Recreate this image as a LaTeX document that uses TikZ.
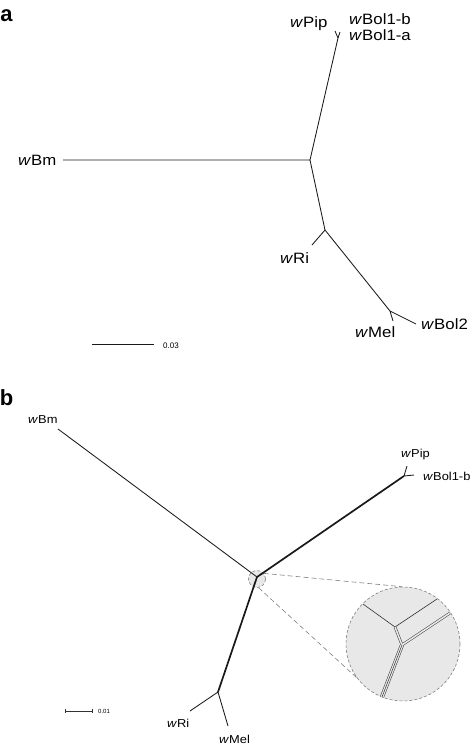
\documentclass[tikz,border=0pt]{standalone}
\usepackage{fontspec}
\setmainfont{Liberation Sans}
\newcommand\wsp[1]{\scalebox{1.12}[1]{\textit{w}#1}}

\begin{document}
\begin{tikzpicture}[x=1pt,y=-1pt,line join=round,
  br/.style={draw=black!90,line width=0.85pt},
  thk/.style={draw=black!90,line width=1.7pt},
  lena/.style={font=\fontsize{15}{17}\selectfont,inner sep=0pt,anchor=base west},
  lenb/.style={font=\fontsize{11.5}{13}\selectfont,inner sep=0pt,anchor=base west},
  zoomc/.style={circle,inner sep=0pt,fill=gray!18,draw=gray,dash pattern=on 3pt off 2pt,line width=0.6pt},
  lens/.style={draw=gray,dash pattern=on 5pt off 3pt,line width=0.6pt},
  dbl/.style={draw=black!80,line width=0.5pt,double=gray!18,double distance=1.6pt}]
\useasboundingbox (0,0) rectangle (474,748);
%% a
\node[font=\fontsize{22}{24}\selectfont\bfseries,inner sep=0pt] (pa) at (6.5,16) {a};
\coordinate (ra) at (310,160);
\coordinate (bma) at (63,160);
\coordinate (fa1) at (338,38);
\coordinate (pipa) at (335,31);
\coordinate (bola) at (340,32);
\coordinate (ja) at (325,230);
\coordinate (ria) at (312,245);
\coordinate (fa2) at (390,311);
\coordinate (mela) at (393,321);
\coordinate (bol2a) at (416,324);
\draw[br] (bma) -- (ra) -- (fa1) -- (pipa) (fa1) -- (bola)
  (ra) -- (ja) -- (ria) (ja) -- (fa2) -- (mela) (fa2) -- (bol2a);
\node[lena] (lpipa) at (290,27) {\wsp{Pip}};
\node[lena] (lbolaa) at (349,24) {\wsp{Bol1-b}};
\node[lena] (lbolab) at (349,40) {\wsp{Bol1-a}};
\node[lena] (lbma) at (18,165) {\wsp{Bm}};
\node[lena] (lria) at (280,263) {\wsp{Ri}};
\node[lena] (lmela) at (355,337) {\wsp{Mel}};
\node[lena] (lbol2a) at (421,329) {\wsp{Bol2}};
\coordinate (sa1) at (92,344);
\coordinate (sa2) at (154,344);
\draw[br] (sa1) -- (sa2);
\node[font=\fontsize{8}{9}\selectfont,inner sep=0pt,anchor=base west] (lsa) at (163,348) {0.03};
%% b
\node[font=\fontsize{22}{24}\selectfont\bfseries,inner sep=0pt,anchor=base] (pb) at (6.5,405) {b};
\node[zoomc,minimum size=17pt] (zs) at (257,579) {};
\node[zoomc,minimum size=114pt] (zb) at (403,644) {};
\draw[lens] (zs.40) -- (zb.91) (zs.-80) -- (zb.216);
\coordinate (rb) at (257,577);
\coordinate (bmb) at (58,429);
\coordinate (fb1) at (404,476);
\coordinate (pipb) at (407,466);
\coordinate (bolb) at (414,475);
\coordinate (fb2) at (218,692);
\coordinate (rib) at (190,711);
\coordinate (melb) at (228,726);
\draw[br] (bmb) -- (rb);
\draw[thk] (rb) -- (fb1) (rb) -- (fb2);
\draw[br] (fb1) -- (pipb) (fb1) -- (bolb) (fb2) -- (rib) (fb2) -- (melb);
\coordinate (z1) at (395,627);
\coordinate (z2) at (402,645);
\coordinate (za) at (363,604);
\coordinate (zb1) at (437,599);
\coordinate (zc) at (450,613);
\coordinate (zd) at (382,697);
\draw[draw=black!80,line width=0.6pt] (za) -- (z1) -- (zb1);
\draw[dbl] (z1) -- (z2) -- (zc);
\draw[dbl,double distance=3pt] (z2) -- (zd);
\draw[draw=black!80,line width=0.5pt] (z2) -- (zd);
\node[lenb] (lbmb) at (28,423) {\wsp{Bm}};
\node[lenb] (lpipb) at (401,457) {\wsp{Pip}};
\node[lenb] (lbolb) at (423,480) {\wsp{Bol1-b}};
\node[lenb] (lrib) at (167,727) {\wsp{Ri}};
\node[lenb] (lmelb) at (219,743) {\wsp{Mel}};
\coordinate (sb1) at (65,711);
\coordinate (sb2) at (92,711);
\draw[draw=black!80,line width=0.6pt] (sb1) -- (sb2) (65,709) -- (65,713) (92,709) -- (92,713);
\node[font=\fontsize{6}{7}\selectfont,inner sep=0pt,anchor=base west] (lsb) at (98,713.5) {0.01};
\end{tikzpicture}
\end{document}
